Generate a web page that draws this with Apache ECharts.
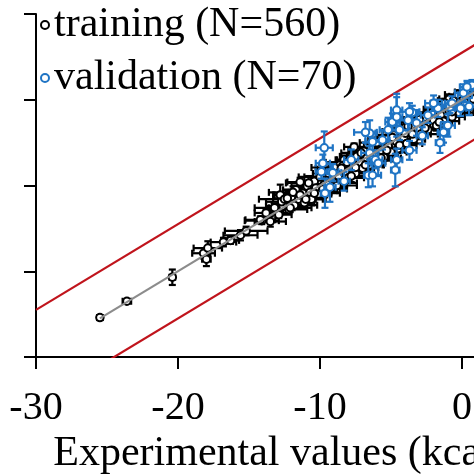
<!DOCTYPE html>
<html>
<head>
<meta charset="utf-8">
<script src="https://cdn.jsdelivr.net/npm/echarts@6/dist/echarts.min.js"></script>
<style>
  html, body { margin: 0; padding: 0; background: #fff; }
  #chart { width: 474px; height: 474px; }
</style>
</head>
<body>
<div id="chart"></div>
<script>
// training set: experimental (x) vs predicted (y), with error bars
var trainX    = [-25.5, -23.6, -20.4, -18.2, -17.9, -18.0, -16.8, -16.3, -15.6, -15.2, -14.1, -12.6, -12.8, -11.9,
                 -11.6, -11.3, -11.0, -10.8, -10.5, -10.2, -10.0, -9.8, -9.5, -9.3, -9.0, -8.8, -8.6, -8.4, -8.1,
                 -7.9, -7.7, -7.5, -7.3, -7.1, -6.9, -6.7, -6.5, -6.3, -6.0, -5.8, -5.6, -5.4, -5.1, -4.9, -4.7,
                 -4.4, -4.2, -3.9, -3.7, -3.4, -3.2, -2.9, -2.7, -2.4, -2.2, -1.9, -1.6, -1.3, -1.1, -0.8, -0.5,
                 -0.2, 0.1, 0.4, 0.7, -11.4, -10.6, -9.6, -8.3, -7.6, -6.2, -5.3, -4.0, -3.0, -2.0, -0.9,
                 -13.2, -12.9, -12.7, -12.2, -12.0, -11.8, -11.7, -11.5, -11.2, -11.1, -10.9, -10.7, -10.6, -10.4,
                 -10.3, -10.1, -9.9, -9.7, -9.6, -9.4, -9.2, -9.1, -8.9, -8.7, -8.6, -8.4, -8.2, -8.0, -7.9,
                 -7.7, -7.5, -7.4, -7.2, -7.0, -6.9, -6.7, -6.5, -6.4, -6.2, -6.1, -5.9, -5.7, -5.5, -5.3,
                 -5.2, -5.0, -4.8, -4.6, -4.5, -4.3, -4.1, -3.9, -3.8, -3.6, -3.4, -3.2, -3.1, -2.9, -2.7,
                 -2.5, -2.4, -2.2, -2.0, -1.8, -1.7, -1.5, -1.3, -1.1, -0.9, -0.7, -0.6, -0.4, -0.2, 0.0,
                 0.2, 0.4, 0.6, 0.8,
                 -12.5, -12.1, -11.9, -11.4, -11.0, -10.8, -10.4, -10.0, -9.8, -9.4, -9.0, -8.8, -8.5, -8.1,
                 -7.8, -7.5, -7.1, -6.8, -6.4, -6.0, -5.7, -5.3, -4.9, -4.4, -4.0, -3.5, -3.0, -2.6, -2.1,
                 -1.6, -1.2, -0.7, -0.3, 0.3, -13.8, -14.2, -13.5, -12.3];
var trainY    = [-25.4, -23.5, -20.7, -17.9, -17.3, -18.6, -16.6, -16.4, -15.8, -15.3, -14.1, -12.4, -11.1, -11.8,
                 -11.0, -11.9, -10.4, -11.3, -9.8, -10.6, -9.4, -10.1, -9.0, -9.7, -8.5, -9.2, -7.6, -8.3, -8.8,
                 -7.4, -8.1, -6.6, -7.4, -7.9, -6.3, -6.9, -7.5, -5.8, -6.5, -5.4, -6.1, -4.9, -5.6, -4.4, -5.2,
                 -4.1, -4.8, -3.5, -4.1, -3.1, -3.7, -2.6, -3.2, -2.1, -2.8, -1.7, -2.2, -1.1, -1.6, -0.5, -1.0,
                 0.0, -0.4, 0.6, 0.3, -9.6, -9.9, -9.6, -7.0, -5.5, -7.2, -6.2, -3.2, -2.0, -1.2, 0.1,
                 -12.6, -13.4, -11.9, -12.8, -11.3, -12.3, -10.5, -11.6, -10.9, -12.0, -10.1, -10.8, -11.6, -9.5,
                 -10.3, -11.0, -9.0, -9.9, -10.6, -8.6, -9.4, -10.0, -8.1, -8.9, -9.7, -7.7, -8.4, -9.1, -7.0,
                 -7.8, -8.6, -6.6, -7.3, -8.0, -6.0, -6.8, -7.6, -5.6, -6.3, -7.1, -5.2, -5.9, -6.7, -4.6,
                 -5.4, -6.1, -4.1, -4.9, -5.7, -3.7, -4.4, -5.1, -3.1, -3.9, -4.6, -2.6, -3.4, -4.0, -2.1,
                 -2.9, -3.5, -1.6, -2.4, -3.0, -1.1, -1.8, -2.5, -0.6, -1.3, -2.0, -0.1, -0.8, -1.5, 0.4,
                 -0.3, -1.0, 0.8, 0.1,
                 -11.6, -12.6, -10.8, -11.1, -11.6, -9.7, -10.9, -9.0, -10.4, -9.9, -7.9, -10.0, -8.0, -7.3,
                 -8.9, -7.9, -6.2, -7.6, -6.9, -5.0, -6.8, -5.9, -4.4, -5.3, -3.9, -4.0, -2.3, -3.3, -1.5,
                 -2.6, -0.4, -1.4, 0.6, 0.9, -13.2, -14.0, -14.2, -11.5];
var trainXErr = [0.2, 0.3, 0.2, 0.8, 1.0, 0.3, 0.9, 0.6, 1.2, 1.5, 1.2, 1.2, 0.4, 0.6,
                 0.8, 0.6, 0.9, 0.5, 0.7, 1.0, 0.6, 0.8, 0.5, 0.9, 0.7, 0.6, 0.8, 1.1, 0.5,
                 0.7, 0.9, 0.6, 0.8, 0.5, 0.9, 0.6, 0.7, 0.8, 0.5, 0.7, 0.9, 0.6, 0.8, 0.5, 0.7,
                 0.9, 0.6, 0.8, 0.5, 0.7, 0.6, 0.8, 0.5, 0.7, 0.6, 0.8, 0.5, 0.7, 0.6, 0.8, 0.5,
                 0.7, 0.6, 0.5, 0.6, 0.9, 0.7, 0.8, 0.6, 0.7, 0.8, 0.6, 0.7, 0.5, 0.6, 0.7,
                 1.4, 0.9, 1.1, 1.3, 0.8, 1.6, 0.9, 1.2, 1.4, 0.7, 1.1, 1.5, 0.8, 1.0,
                 1.3, 0.9, 1.2, 1.6, 0.8, 1.1, 1.4, 0.9, 1.3, 1.0, 1.2, 0.8, 1.5, 1.1, 0.9,
                 1.3, 1.0, 1.2, 1.4, 0.8, 1.1, 1.3, 0.9, 1.2, 1.0, 1.4, 0.8, 1.2, 1.0, 1.3,
                 0.9, 1.1, 1.2, 1.0, 0.8, 1.3, 0.9, 1.1, 1.0, 1.2, 0.8, 1.1, 0.9, 1.2, 1.0,
                 0.8, 1.1, 0.9, 1.2, 0.8, 1.0, 0.9, 1.1, 0.8, 1.0, 0.9, 1.1, 0.8, 1.0, 0.9,
                 0.8, 1.0, 0.9, 0.7,
                 1.8, 1.5, 1.7, 1.9, 1.4, 1.6, 1.8, 1.5, 1.7, 1.3, 1.6, 1.4, 1.8, 1.5,
                 1.2, 1.6, 1.4, 1.3, 1.5, 1.2, 1.4, 1.3, 1.1, 1.2, 1.0, 1.3, 1.1, 1.0, 1.2,
                 0.9, 1.0, 1.1, 0.9, 0.8, 0.8, 1.05, 1.1, 1.0];
var trainYErr = [0.2, 0.2, 0.9, 0.6, 0.8, 0.8, 0.5, 0.4, 0.6, 0.5, 0.4, 0.8, 1.2, 0.5,
                 0.3, 0.4, 0.5, 0.6, 0.4, 0.5, 0.5, 0.3, 0.6, 0.4, 0.5, 0.6, 0.4, 0.3, 0.7,
                 0.5, 0.4, 0.5, 0.6, 0.4, 0.5, 0.3, 0.6, 0.4, 0.5, 0.6, 0.4, 0.5, 0.3, 0.6, 0.4,
                 0.5, 0.4, 0.5, 0.6, 0.4, 0.5, 0.4, 0.5, 0.3, 0.5, 0.4, 0.5, 0.4, 0.3, 0.4, 0.5,
                 0.4, 0.3, 0.4, 0.4, 0.5, 0.4, 0.6, 0.5, 0.4, 0.5, 0.4, 0.6, 0.5, 0.4, 0.5,
                 0.5, 0.4, 0.6, 0.5, 0.7, 0.4, 0.5, 0.6, 0.4, 0.5, 0.6, 0.4, 0.7, 0.5,
                 0.6, 0.4, 0.6, 0.5, 0.4, 0.7, 0.5, 0.6, 0.4, 0.5, 0.6, 0.5, 0.4, 0.6, 0.5,
                 0.7, 0.4, 0.5, 0.6, 0.5, 0.4, 0.6, 0.5, 0.5, 0.4, 0.6, 0.5, 0.6, 0.4, 0.5,
                 0.6, 0.5, 0.4, 0.6, 0.5, 0.5, 0.4, 0.6, 0.5, 0.6, 0.4, 0.5, 0.6, 0.5, 0.4,
                 0.6, 0.5, 0.5, 0.4, 0.6, 0.5, 0.4, 0.6, 0.5, 0.6, 0.4, 0.5, 0.5, 0.4, 0.5,
                 0.6, 0.5, 0.4, 0.5,
                 0.6, 0.5, 0.7, 0.5, 0.6, 0.8, 0.5, 0.6, 0.7, 0.5, 0.6, 0.8, 0.5, 0.6,
                 0.7, 0.5, 0.6, 0.5, 0.7, 0.6, 0.5, 0.6, 0.5, 0.6, 0.5, 0.6, 0.5, 0.6, 0.5,
                 0.6, 0.5, 0.4, 0.5, 0.4, 0.5, 0.4, 0.6, 1.0];

// validation set
var valX    = [-9.7, -9.8, -9.9, -9.2, -9.3, -9.65, -6.5, -6.5, -6.6, -6.1, -6.3, -4.7, -5.6, -4.6, -4.9, -3.8,
               -3.5, -4.6, -3.7, -2.4, -1.7, -1.55, -0.85, -0.1, 0.2, 0.7, -2.8, -7.8, -8.3, -1.0, 0.5, -5.2,
               -6.8, -6.3, -4.6, -4.4, -3.7, -3.2, -2.0, -1.3, -0.7, 0.1, 0.35, -9.1, -5.9];
var valY    = [-5.6, -7.4, -8.4, -8.4, -10.2, -10.9, -3.9, -6.2, -8.8, -7.0, -8.8, -8.2, -4.7, -1.2, -2.6, -2.4,
               -1.5, -7.0, -5.9, -1.8, -1.0, -5.0, -0.85, -1.0, 0.55, 1.7, -4.2, -7.0, -9.5, -3.0, -0.8, -3.5,
               -3.8, -4.9, -2.0, -3.5, -1.4, -2.7, -0.4, -3.8, -0.4, 0.8, 1.5, -8.5, -7.4];
var valXErr = [0.6, 0.5, 0.4, 0.5, 0.4, 0.3, 0.4, 0.6, 0.3, 0.5, 0.6, 0.3, 0.5, 0.4, 0.5, 0.6,
               0.4, 0.4, 0.5, 0.5, 0.4, 0.3, 0.5, 0.4, 0.5, 0.5, 0.4, 0.5, 0.4, 0.5, 0.4, 0.6,
               0.8, 0.5, 0.4, 0.7, 0.7, 0.5, 0.6, 0.4, 0.5, 0.6, 0.5, 0.6, 0.5];
var valYErr = [1.9, 1.0, 0.8, 0.9, 1.7, 1.7, 1.5, 0.8, 1.4, 1.0, 1.3, 1.9, 1.1, 1.9, 1.0, 1.2,
               0.8, 1.3, 1.1, 0.9, 1.0, 1.2, 0.7, 0.9, 0.8, 0.6, 1.0, 1.2, 1.1, 1.3, 1.0, 1.4,
               1.2, 1.0, 2.3, 1.2, 1.0, 1.5, 0.9, 1.2, 0.8, 1.0, 0.7, 1.0, 1.5];

var xTicks = [-30, -20, -10, 0, 10];
var parityLine = [-25.5, 12];   // y = x
var bandOffset = 5.5;           // red lines y = x +/- offset
var bandRange  = [-30, 12];

var serif = "'Liberation Serif', 'Times New Roman', serif";
var blue = '#1f74c4';
var red = '#c0141c';

function rows(xs, ys, exs, eys) {
    var out = [];
    for (var i = 0; i < xs.length; i++) {
        out.push([xs[i], ys[i], exs[i], eys[i]]);
    }
    return out;
}
var trainRows = rows(trainX, trainY, trainXErr, trainYErr);
var valRows = rows(valX, valY, valXErr, valYErr);

//误差线
function errRender(color) {
    return function (params, api) {
        var x = api.value(0), y = api.value(1), ex = api.value(2), ey = api.value(3);
        var l = api.coord([x - ex, y]), r = api.coord([x + ex, y]);
        var b = api.coord([x, y - ey]), t = api.coord([x, y + ey]);
        var cap = 3.5;
        var st = { stroke: color, lineWidth: 2.2 };
        return {
            type: 'group',
            children: [
                { type: 'line', shape: { x1: l[0], y1: l[1], x2: r[0], y2: r[1] }, style: st },
                { type: 'line', shape: { x1: l[0], y1: l[1] - cap, x2: l[0], y2: l[1] + cap }, style: st },
                { type: 'line', shape: { x1: r[0], y1: r[1] - cap, x2: r[0], y2: r[1] + cap }, style: st },
                { type: 'line', shape: { x1: b[0], y1: b[1], x2: t[0], y2: t[1] }, style: st },
                { type: 'line', shape: { x1: b[0] - cap, y1: b[1], x2: b[0] + cap, y2: b[1] }, style: st },
                { type: 'line', shape: { x1: t[0] - cap, y1: t[1], x2: t[0] + cap, y2: t[1] }, style: st }
            ]
        };
    };
}

var myChart = echarts.init(document.getElementById('chart'));
var option = {
    animation: false,
    backgroundColor: '#fff',
    grid: { left: 36, top: 14, width: 568, height: 343, outerBoundsMode: 'none', containLabel: false },
    legend: {
        orient: 'vertical',
        left: 35,
        top: -2,
        itemWidth: 8,
        itemHeight: 8,
        itemGap: 9,
        icon: 'circle',
        textStyle: { fontFamily: serif, fontSize: 42, color: '#000', lineHeight: 44 },
        data: ['training (N=560)', 'validation (N=70)']
    },
    xAxis: {
        type: 'value',
        min: xTicks[0],
        max: xTicks[xTicks.length - 1],
        interval: 10,
        splitLine: { show: false },
        axisLine: { onZero: false, lineStyle: { color: '#000', width: 2 } },
        axisTick: { inside: false, length: 12, lineStyle: { color: '#000', width: 2 } },
        axisLabel: { fontFamily: serif, fontSize: 40, color: '#000', margin: 31 },
        name: 'Experimental values (kcal/mol)',
        nameLocation: 'middle',
        nameGap: 74,
        nameTextStyle: { fontFamily: serif, fontSize: 42, color: '#000', padding: [0, 4, 0, 0] }
    },
    yAxis: {
        type: 'value',
        min: -30,
        max: 10,
        interval: 10,
        splitLine: { show: false },
        axisLine: { onZero: false, lineStyle: { color: '#000', width: 2 } },
        axisTick: { inside: false, length: 12, lineStyle: { color: '#000', width: 2 } },
        axisLabel: { show: false }
    },
    series: [
        {
            name: 'upper',
            type: 'line',
            data: [[bandRange[0], bandRange[0] + bandOffset], [bandRange[1], bandRange[1] + bandOffset]],
            symbol: 'none',
            lineStyle: { color: red, width: 2.2 },
            z: 1
        },
        {
            name: 'lower',
            type: 'line',
            data: [[bandRange[0], bandRange[0] - bandOffset], [bandRange[1], bandRange[1] - bandOffset]],
            symbol: 'none',
            lineStyle: { color: red, width: 2.2 },
            z: 1
        },
        {
            type: 'custom',
            renderItem: errRender('#000'),
            data: trainRows,
            encode: { x: 0, y: 1 },
            z: 2
        },
        {
            name: 'training (N=560)',
            type: 'scatter',
            data: trainRows,
            symbol: 'circle',
            symbolSize: 7.5,
            itemStyle: { color: '#fff', borderColor: '#000', borderWidth: 2, opacity: 1 },
            z: 3
        },
        {
            type: 'custom',
            renderItem: errRender(blue),
            data: valRows,
            encode: { x: 0, y: 1 },
            z: 4
        },
        {
            name: 'validation (N=70)',
            type: 'scatter',
            data: valRows,
            symbol: 'circle',
            symbolSize: 7.5,
            itemStyle: { color: '#fff', borderColor: blue, borderWidth: 2, opacity: 1 },
            z: 5
        },
        {
            name: 'parity',
            type: 'line',
            data: [[parityLine[0], parityLine[0]], [parityLine[1], parityLine[1]]],
            symbol: 'none',
            lineStyle: { color: '#8c8c8c', width: 2.2 },
            z: 6
        }
    ]
};
myChart.setOption(option);
</script>
</body>
</html>
